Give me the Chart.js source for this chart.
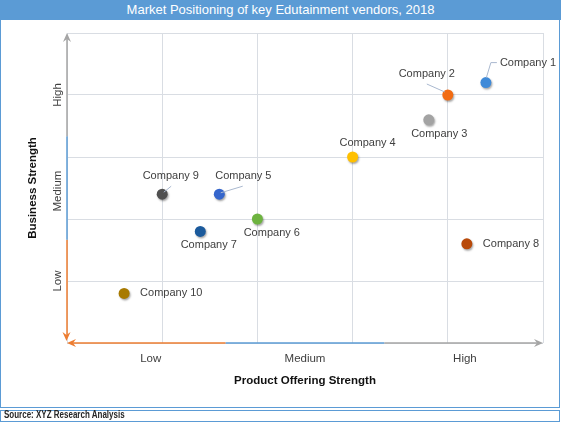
<!DOCTYPE html>
<html><head><meta charset="utf-8">
<script src="https://cdn.jsdelivr.net/npm/chart.js@4"></script>
<style>
html,body{margin:0;padding:0;background:#fff;}
#wrap{position:relative;width:561px;height:422px;overflow:hidden;font-family:"Liberation Sans",Arial,sans-serif;}
#frame{position:absolute;left:0;top:0;width:560px;height:408px;box-sizing:border-box;border:1px solid #5B9BD5;}
#titlebar{position:absolute;left:0;top:0;width:561px;height:20px;background:#5B9BD5;color:#fff;font-size:13px;line-height:20px;text-align:center;}
#footer{position:absolute;left:0;top:410px;width:560px;height:12px;box-sizing:border-box;border:1px solid #5B9BD5;}
#source{position:absolute;left:4px;top:409px;height:12px;line-height:12px;white-space:nowrap;color:#262626;font:bold 10px "Liberation Sans",Arial,sans-serif;transform:scaleX(0.8);transform-origin:0 50%;}
canvas{position:absolute;left:0;top:0;}
</style></head>
<body><div id="wrap"><div id="frame"></div><div id="titlebar">Market Positioning of key Edutainment vendors, 2018</div><canvas id="c" width="561" height="422"></canvas><div id="footer"></div><div id="source">Source: XYZ Research Analysis</div></div>
<script>
// ---- data ----
const companies = ['Company 1','Company 2','Company 3','Company 4','Company 5','Company 6','Company 7','Company 8','Company 9','Company 10'];
const productStrength = [4.4, 4.0, 3.8, 3.0, 1.6, 2.0, 1.4, 4.2, 1.0, 0.6];
const businessStrength = [4.2, 4.0, 3.6, 3.0, 2.4, 2.0, 1.8, 1.6, 2.4, 0.8];
const pointColors = ['#3F8AD8','#F26B12','#A3A3A3','#FFC000','#3566CC','#6DB33F','#1B5A9C','#B84A0A','#505050','#A87A00'];
const levelLabels = ['Low','Medium','High'];
const xLevelPos = [0.88, 2.5, 4.18];
const yLevelPos = [1.0, 2.45, 4.0];
const xTitle = 'Product Offering Strength';
const yTitle = 'Business Strength';

// label placement relative to each point (pixels)
const labelPlace = [
  {dx:14, dy:-20, align:'left', leader:[[0.5,-5],[5,-20],[11,-20]]},
  {dx:-21, dy:-21, align:'center', leader:[[-21,-11],[-3,-3]]},
  {dx:10.5, dy:14, align:'center'},
  {dx:15, dy:-14.5, align:'center'},
  {dx:24, dy:-18, align:'center', leader:[[23.4,-8],[1.4,-1.4]]},
  {dx:14.4, dy:14, align:'center'},
  {dx:8.5, dy:14, align:'center'},
  {dx:16, dy:0, align:'left'},
  {dx:8.6, dy:-18, align:'center', leader:[[9,-8],[1.6,-2]]},
  {dx:16, dy:0, align:'left'}
];

const ORANGE = '#ED7D31', BLUE = '#5B9BD5', GRAY = '#A5A5A5';
const FONT = '"Liberation Sans", Arial, sans-serif';

function arrowHead(ctx, x, y, ang, color) {
  ctx.save();
  ctx.translate(x, y);
  ctx.rotate(ang);
  ctx.fillStyle = color;
  ctx.beginPath();
  ctx.moveTo(0, 0);
  ctx.lineTo(-9, -4);
  ctx.lineTo(-6, 0);
  ctx.lineTo(-9, 4);
  ctx.closePath();
  ctx.fill();
  ctx.restore();
}

const axesArrows = {
  id: 'axesArrows',
  beforeDatasetsDraw(chart) {
    const ctx = chart.ctx, xs = chart.scales.x, ys = chart.scales.y;
    const x0 = xs.getPixelForValue(0), x1 = xs.getPixelForValue(5/3), x2 = xs.getPixelForValue(10/3), x3 = xs.getPixelForValue(5);
    const y0 = ys.getPixelForValue(0), y1 = ys.getPixelForValue(5/3), y2 = ys.getPixelForValue(10/3), y3 = ys.getPixelForValue(5);
    ctx.save();
    ctx.lineWidth = 1.5;
    const seg = (ax, ay, bx, by, c) => { ctx.strokeStyle = c; ctx.beginPath(); ctx.moveTo(ax, ay); ctx.lineTo(bx, by); ctx.stroke(); };
    // x axis
    seg(x0 + 6, y0, x1, y0, ORANGE);
    seg(x1, y0, x2, y0, BLUE);
    seg(x2, y0, x3 - 6, y0, GRAY);
    arrowHead(ctx, x0, y0, Math.PI, ORANGE);
    arrowHead(ctx, x3, y0, 0, GRAY);
    // y axis
    seg(x0, y0 - 8, x0, y1, ORANGE);
    seg(x0, y1, x0, y2, BLUE);
    seg(x0, y2, x0, y3 + 6, GRAY);
    arrowHead(ctx, x0 - 0.5, y0 - 2, Math.PI / 2, ORANGE);
    arrowHead(ctx, x0, y3, -Math.PI / 2, GRAY);
    ctx.restore();
    // shadow for points
    ctx.save();
    ctx.shadowColor = 'rgba(0,0,0,0.35)';
    ctx.shadowBlur = 2;
    ctx.shadowOffsetX = 1;
    ctx.shadowOffsetY = 1.5;
  },
  afterDatasetsDraw(chart) {
    chart.ctx.restore();
  }
};

const pointLabels = {
  id: 'pointLabels',
  afterDraw(chart) {
    const ctx = chart.ctx;
    const meta = chart.getDatasetMeta(0);
    ctx.save();
    ctx.font = '11px ' + FONT;
    ctx.fillStyle = '#404040';
    ctx.textBaseline = 'middle';
    meta.data.forEach((pt, i) => {
      const p = labelPlace[i];
      if (p.leader) {
        ctx.strokeStyle = '#A9B8CF';
        ctx.lineWidth = 1;
        ctx.beginPath();
        p.leader.forEach((q, k) => { const fn = k ? 'lineTo' : 'moveTo'; ctx[fn](pt.x + q[0], pt.y + q[1]); });
        ctx.stroke();
      }
      ctx.textAlign = p.align;
      ctx.fillText(companies[i], pt.x + p.dx, pt.y + p.dy);
    });
    ctx.restore();
  }
};

const tickFont = {family: FONT, size: 11.5};
const titleFont = {family: FONT, size: 11.5, weight: 'bold'};

new Chart(document.getElementById('c'), {
  type: 'scatter',
  data: {
    datasets: [{
      data: productStrength.map((v, i) => ({x: v, y: businessStrength[i]})),
      backgroundColor: pointColors,
      borderWidth: 0,
      pointRadius: 5.5,
      pointHoverRadius: 5.5
    }]
  },
  options: {
    responsive: false,
    animation: false,
    events: [],
    layout: {padding: {left: 0, top: 33, right: 18, bottom: 31}},
    plugins: {legend: {display: false}, tooltip: {enabled: false}, title: {display: false}},
    scales: {
      x: {
        type: 'linear', min: 0, max: 5, position: 'bottom',
        ticks: {display: false, stepSize: 1},
        grid: {color: '#D9DDE3', drawTicks: false, lineWidth: 1},
        border: {display: false},
        afterFit: s => { s.height = 0; }
      },
      x2: {
        type: 'linear', min: 0, max: 5, position: 'bottom',
        grid: {display: false, drawTicks: false},
        border: {display: false},
        afterBuildTicks: s => { s.ticks = xLevelPos.map(v => ({value: v})); },
        ticks: {callback: (v, i) => levelLabels[i], padding: 9, font: tickFont, color: '#404040', autoSkip: false, maxRotation: 0},
        title: {display: true, text: xTitle, font: titleFont, color: '#111', padding: {top: 0, bottom: 3}},
        afterFit: s => { s.height = 48; }
      },
      y: {
        type: 'linear', min: 0, max: 5, position: 'left',
        ticks: {display: false, stepSize: 1},
        grid: {color: '#D9DDE3', drawTicks: false, lineWidth: 1},
        border: {display: false},
        afterFit: s => { s.width = 0; }
      },
      y2: {
        type: 'linear', min: 0, max: 5, position: 'left',
        grid: {display: false, drawTicks: false},
        border: {display: false},
        afterBuildTicks: s => { s.ticks = yLevelPos.map(v => ({value: v})); },
        ticks: {callback: (v, i) => levelLabels[i], padding: -11, font: tickFont, color: '#404040', autoSkip: false, minRotation: 90, maxRotation: 90, crossAlign: 'center'},
        title: {display: true, text: yTitle, font: titleFont, color: '#111', padding: {top: 26, bottom: 0}},
        afterFit: s => { s.width = 67; }
      }
    }
  },
  plugins: [axesArrows, pointLabels]
});
</script>
</body></html>
